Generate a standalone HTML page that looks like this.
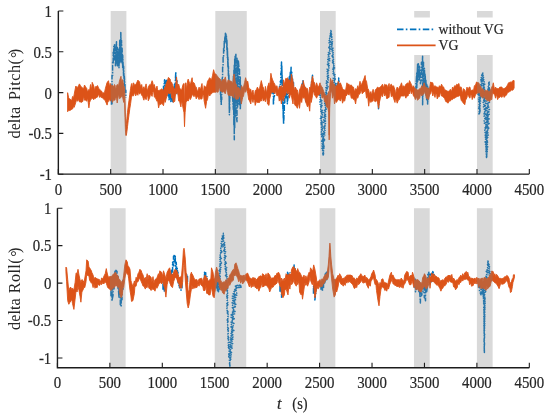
<!DOCTYPE html><html><head><meta charset="utf-8"><title>chart</title><style>html,body{margin:0;padding:0;background:#fff}body{width:550px;height:419px;position:relative;overflow:hidden}</style></head><body><svg width="550" height="419" viewBox="0 0 550 419" style="position:absolute;left:0;top:0"><rect width="550" height="419" fill="#fff"/><path d="M111.5 104.7L111.5 96.3L112.0 103.7L112.0 75.3L112.6 75.7L112.6 62.3L113.2 63.7L113.2 52.3L113.8 57.7L113.8 46.3L114.5 59.7L114.5 44.1L115.1 48.4L115.4 47.3L115.4 65.7L116.5 41.7L116.5 63.7L116.9 61.2L117.3 65.7L117.3 47.3L118.1 65.7L118.1 53.3L118.7 53.4L119.0 48.3L119.0 67.7L119.8 40.3L119.8 63.7L120.5 53.7L120.8 59.7L120.8 32.6L121.5 61.7L121.5 40.3L122.1 63.7L122.1 48.3L122.7 67.7L122.7 55.3L123.6 75.7L123.6 66.3L124.3 85.7L124.3 76.3L124.7 82.6L125.0 84.3L125.0 93.7L125.8 90.3L125.8 97.7" fill="none" stroke="#0072BD" stroke-width="1.5" stroke-linejoin="round" stroke-dasharray="6 1.2 1.6 1.2"/><path d="M163.5 91.7L163.5 86.3L164.1 84.5L164.6 79.8L164.6 89.7L165.3 88.0L165.9 81.0L166.5 91.1L166.8 91.7L166.8 80.3L167.7 84.2L168.0 85.3L168.0 95.7L169.0 88.3L169.0 99.7L169.5 98.7L170.1 90.3L170.7 99.9L171.0 102.7L171.0 90.3L171.9 90.9L172.5 99.6L172.8 101.7L172.8 90.3L173.7 87.5L174.5 84.3L174.5 95.7L174.9 91.1L175.5 77.5L175.8 71.8L175.8 89.7L176.7 91.8L177.0 93.7L177.0 80.3" fill="none" stroke="#0072BD" stroke-width="1.5" stroke-linejoin="round" stroke-dasharray="6 1.2 1.6 1.2"/><path d="M220.5 94.7L220.5 89.3L221.0 101.7L221.0 94.3L221.3 105.7L221.3 100.3L221.7 99.7L221.7 92.3L222.1 88.7L222.1 79.3L222.6 76.7L222.6 67.3L223.1 66.7L223.1 57.3L223.6 57.7L223.6 48.3L224.2 50.7L224.2 41.3L224.8 43.7L224.8 36.3L225.4 38.7L225.4 33.3L225.9 36.4L225.9 34.0L226.4 42.7L226.4 35.3L226.9 49.7L226.9 40.3L227.4 57.7L227.4 48.3L227.9 66.7L227.9 57.3L228.4 75.7L228.4 66.3L228.9 84.7L228.9 75.3L229.1 96.7L229.1 87.3L229.3 108.7L229.3 99.3L229.4 114.7L229.4 111.3L229.7 108.7L229.7 99.3L230.0 96.7L230.0 87.3L230.6 91.7L230.6 84.3L231.5 94.7L231.5 85.3L231.9 85.3L232.5 84.3L232.5 95.7L233.1 104.8L233.4 109.7L233.4 76.3L233.9 125.7L233.9 70.3L234.3 139.7L234.3 64.3L234.7 127.7L234.7 58.3L235.1 117.7L235.1 56.3L235.5 62.8L235.9 53.7L235.9 111.7L236.7 118.8L237.0 121.7L237.0 58.3L237.6 107.7L237.6 60.3L238.4 103.7L238.4 61.3L239.1 69.3L239.5 68.3L239.5 105.7L240.3 76.3L240.3 109.7L241.0 85.3L241.0 103.7L241.5 100.0L242.0 97.7L242.0 88.3" fill="none" stroke="#0072BD" stroke-width="1.5" stroke-linejoin="round" stroke-dasharray="6 1.2 1.6 1.2"/><path d="M272.0 93.7L272.0 86.3L272.6 87.4L273.4 88.3L273.4 104.7L273.8 97.5L274.5 95.7L274.5 88.3" fill="none" stroke="#0072BD" stroke-width="1.5" stroke-linejoin="round" stroke-dasharray="6 1.2 1.6 1.2"/><path d="M279.5 93.7L279.5 86.3L280.3 90.7L280.3 81.3L280.8 82.7L280.8 73.3L281.2 73.7L281.2 66.3L281.5 64.4L281.5 62.0L281.8 74.7L281.8 65.3L282.1 84.7L282.1 75.3L282.5 96.7L282.5 87.3L282.9 108.7L282.9 99.3L283.3 118.7L283.3 111.3L283.6 124.2L283.6 121.8L283.9 118.7L283.9 111.3L284.3 110.7L284.3 101.3L284.8 102.7L284.8 93.3L285.5 98.7L285.5 89.3L286.3 97.7L286.3 86.3L286.7 86.6L287.3 84.3L287.3 103.7L287.9 98.1L288.3 95.7L288.3 82.3L289.1 78.5L289.5 76.3L289.5 89.7L290.3 72.3L290.3 83.7L291.1 67.3L291.1 76.7L291.8 72.3L291.8 83.7L292.1 83.5L292.5 89.7L292.5 78.3L293.5 93.7L293.5 82.3" fill="none" stroke="#0072BD" stroke-width="1.5" stroke-linejoin="round" stroke-dasharray="6 1.2 1.6 1.2"/><path d="M302.0 91.7L302.0 84.3L302.6 83.1L303.0 80.7L303.0 89.7L303.8 92.3L304.5 95.7L304.5 86.3L305.0 88.8L305.6 99.9L306.0 101.7L306.0 90.3L307.0 96.7L307.0 90.3" fill="none" stroke="#0072BD" stroke-width="1.5" stroke-linejoin="round" stroke-dasharray="6 1.2 1.6 1.2"/><path d="M311.5 89.7L311.5 82.3L312.1 78.9L312.5 75.3L312.5 87.7L313.5 82.3L313.5 91.7" fill="none" stroke="#0072BD" stroke-width="1.5" stroke-linejoin="round" stroke-dasharray="6 1.2 1.6 1.2"/><path d="M318.9 92.2L320.7 93.1L319.4 94.9L321.1 96.0L320.2 97.2L321.4 98.4L320.1 99.6L321.9 100.7L319.9 102.0L321.9 103.2L320.1 104.4L322.1 105.6L320.6 106.8L322.0 108.0L320.7 109.2L322.5 110.2L320.8 111.4L322.5 112.5L320.9 113.7L322.5 114.8L320.8 116.0L322.3 117.1L320.4 118.3L322.1 119.4L321.2 120.6L322.9 121.7L320.9 122.9L322.3 124.0L320.6 125.2L323.1 126.2L321.4 127.4L322.8 128.5L321.5 129.7L322.8 130.8L321.2 132.0L322.7 133.1L321.2 134.3L322.7 135.4L321.7 136.6L323.4 137.7L321.6 138.9L323.1 140.0L321.6 141.2L323.3 142.4L321.9 143.6L323.0 144.8L321.9 146.0L323.7 147.2L321.9 148.4L323.6 149.6L322.5 150.8L323.5 151.9L322.8 153.6L323.2 155.0L323.6 153.8L323.3 152.7L323.9 151.5L323.3 150.3L324.3 149.2L323.3 148.0L324.1 146.8L323.1 145.6L324.5 144.5L323.3 143.3L324.5 142.2L323.4 141.0L324.7 139.9L323.2 138.6L324.6 137.5L323.4 136.3L324.8 135.2L323.3 134.0L324.8 132.8L323.7 131.6L325.1 130.5L323.5 129.3L325.0 128.2L323.7 127.0L325.2 125.9L324.0 124.6L325.5 123.5L323.5 122.3L325.6 121.2L323.5 119.9L325.4 118.8L323.7 117.5L325.7 116.4L324.4 115.2L326.1 114.0L323.9 112.7L325.6 111.6L324.5 110.4L326.4 109.2L324.6 108.0L326.0 106.9L325.0 105.8L326.0 104.7L324.6 103.5L326.9 102.5L324.5 101.3L326.6 100.3L325.4 99.1L326.6 98.1L325.0 96.7L327.2 95.8L325.4 94.5L327.0 93.5L325.7 92.2L327.5 91.2L325.9 89.9L327.5 88.9L325.8 87.7L328.2 86.8L326.6 85.5L327.9 84.5L326.2 83.2L328.1 82.3L326.4 81.0L328.4 80.0L326.7 78.7L328.7 77.7L327.2 76.4L328.5 75.2L327.3 74.0L329.0 72.9L327.1 71.5L328.7 70.4L327.1 69.1L329.0 68.0L327.8 66.8L329.2 65.6L327.4 64.3L329.4 63.2L327.8 61.9L329.8 60.9L327.7 59.5L329.8 58.5L328.2 57.2L329.8 56.0L328.1 54.7L330.1 53.7L328.4 52.4L329.9 51.2L328.7 50.0L330.3 48.9L328.8 47.6L329.9 46.4L328.8 45.2L330.6 44.1L329.0 42.8L330.7 41.8L329.1 40.5L330.6 39.5L329.5 38.2L330.7 37.2L330.0 36.0L330.8 34.9L330.3 33.8L331.0 32.7L330.5 31.6L330.8 30.5L331.2 31.8L331.0 33.1L331.6 34.4L330.9 35.7L331.9 37.0L331.2 38.2L332.1 39.2L331.3 40.4L332.5 41.5L331.5 42.7L332.3 43.7L331.5 44.9L332.9 45.9L331.3 47.2L333.0 48.1L331.3 49.4L333.0 50.4L332.1 51.5L333.2 52.6L331.9 53.7L333.2 54.8L331.9 56.0L333.4 57.0L332.3 58.1L333.6 59.2L331.9 60.4L333.5 61.4L332.5 62.5L333.8 63.6L332.7 64.7L334.1 65.8L332.8 66.9L334.6 67.9L332.8 69.2L334.6 70.2L333.2 71.4L334.6 72.4L333.0 73.6L335.0 74.6L333.4 75.8L334.9 76.8L333.1 78.1L335.4 79.0L333.9 80.4L335.4 81.3L333.7 82.7L335.6 83.6L334.0 85.0L335.9 85.5L334.9 87.6L337.2 88.0" fill="none" stroke="#0072BD" stroke-width="1.5" stroke-linejoin="round" stroke-dasharray="6 1.2 1.6 1.2"/><path d="M336.5 91.7L336.5 84.3L337.1 83.7L337.8 82.3L337.8 91.7L338.3 88.9L338.7 89.7L338.7 78.0L339.8 93.7L339.8 84.3" fill="none" stroke="#0072BD" stroke-width="1.5" stroke-linejoin="round" stroke-dasharray="6 1.2 1.6 1.2"/><path d="M377.5 95.7L377.5 90.3L378.1 91.6L378.5 92.3L378.5 108.7L379.5 92.3L379.5 97.7" fill="none" stroke="#0072BD" stroke-width="1.5" stroke-linejoin="round" stroke-dasharray="6 1.2 1.6 1.2"/><path d="M415.0 94.7L415.0 88.3L415.9 91.7L415.9 82.3L416.2 82.4L416.8 72.3L416.8 87.7L417.6 64.3L417.6 81.7L418.0 79.6L418.4 77.7L418.4 63.7L419.4 79.7L419.4 66.3L419.8 70.3L420.4 70.3L420.4 83.7L421.0 81.1L421.4 79.7L421.4 62.3L422.2 69.6L422.6 56.2L422.6 104.7L423.5 62.3L423.5 91.7L424.0 90.5L424.4 89.7L424.4 68.3L425.2 91.7L425.2 74.3L425.9 95.7L425.9 80.3L426.7 99.7L426.7 84.3L427.0 89.0L427.6 86.3L427.6 104.1L428.5 88.3L428.5 95.7" fill="none" stroke="#0072BD" stroke-width="1.5" stroke-linejoin="round" stroke-dasharray="6 1.2 1.6 1.2"/><path d="M477.7 92.1L479.1 93.1L477.9 94.3L479.2 95.4L478.1 96.6L479.6 97.6L478.4 98.9L479.8 100.0L478.7 101.2L479.6 102.3L478.6 103.5L479.5 104.7L478.5 105.9L479.6 107.0L478.6 108.2L480.0 109.3L478.9 110.5L480.0 111.6L478.8 112.8L478.9 114.0L479.7 112.8L479.1 111.7L480.1 110.5L479.2 109.3L480.0 108.2L479.2 107.0L480.1 105.8L479.0 104.6L480.3 103.5L479.2 102.3L480.6 101.2L478.9 99.9L480.5 98.9L479.7 97.8L481.2 96.7L479.2 95.5L481.2 94.5L479.6 93.3L481.0 92.3L480.0 91.1L481.3 90.1L479.9 88.8L481.3 87.8L479.9 86.6L482.0 85.6L480.7 84.4L482.3 83.4L480.5 82.2L482.5 81.2L480.7 79.9L482.6 79.0L481.2 77.6L482.7 76.6L481.6 75.3L482.6 74.2L482.8 73.0L482.3 74.2L483.2 75.2L482.3 76.4L483.6 77.4L482.1 78.7L483.8 79.7L482.5 80.9L484.3 81.9L482.0 83.3L484.8 84.3L482.3 85.7L485.1 86.7L482.9 88.1L484.6 89.1L483.2 90.5L484.8 91.5L483.4 92.9L485.7 93.9L482.4 95.3L485.2 96.3L482.8 97.6L486.5 98.6L482.8 99.9L485.5 100.9L483.1 102.3L485.8 103.3L483.8 104.6L485.6 105.6L483.4 106.9L487.1 107.9L484.1 109.2L486.1 110.3L483.9 111.6L486.0 112.6L483.9 113.9L487.0 114.9L484.0 116.2L486.2 117.3L484.7 118.5L486.5 119.6L484.0 120.9L487.5 121.9L484.3 123.2L486.5 124.3L484.8 125.5L486.9 126.6L485.0 127.9L486.6 129.0L484.7 130.2L487.4 131.3L485.0 132.5L487.5 133.6L484.5 134.9L487.0 136.0L485.3 137.2L486.8 138.4L485.0 139.6L487.4 140.8L485.0 142.0L486.8 143.2L485.5 144.4L486.7 145.6L485.8 146.8L486.9 148.0L486.0 149.2L486.8 150.4L485.8 151.6L486.8 152.7L486.2 153.9L486.8 155.1L486.4 156.3L486.5 157.5L486.8 156.3L486.4 155.1L486.9 153.9L486.3 152.7L487.3 151.6L486.2 150.4L487.4 149.2L486.2 148.0L487.8 146.9L486.0 145.6L487.4 144.5L486.3 143.3L487.6 142.2L486.0 141.0L487.9 139.9L486.3 138.6L487.8 137.5L486.2 136.3L488.4 135.2L486.0 134.0L488.0 132.9L486.3 131.6L488.5 130.5L486.7 129.3L488.9 128.2L486.8 127.0L488.7 125.9L486.7 124.6L489.2 123.5L486.1 122.3L488.4 121.2L486.4 120.0L489.3 118.9L486.0 117.6L489.1 116.5L486.4 115.3L489.3 114.2L486.1 113.0L489.1 111.9L486.5 110.6L489.5 109.5L486.7 108.3L488.9 107.2L486.7 106.0L489.1 104.8L486.7 103.6L489.5 102.4L486.6 101.1L488.9 100.0L487.7 98.8L489.7 97.6L487.1 96.4L489.8 95.2L487.2 94.0L489.7 92.8L487.9 91.6L489.1 90.4L487.8 89.2L489.4 88.0L488.2 86.8L489.5 85.6L488.3 84.4L489.1 83.2L489.2 82.0L488.6 83.2L489.3 84.3L488.8 85.5L489.5 86.5L488.8 87.8L490.3 88.8L488.5 90.2L490.7 91.1L489.4 92.8L489.5 93.7L490.7 92.0" fill="none" stroke="#0072BD" stroke-width="1.5" stroke-linejoin="round" stroke-dasharray="6 1.2 1.6 1.2"/><path d="M67.6 92.7L68.6 97.6L69.3 98.7L70.9 99.7L71.6 101.0L72.5 96.5L73.6 97.4L74.2 94.3L75.8 86.1L76.6 87.1L77.4 87.7L78.6 85.5L79.4 83.9L80.6 85.9L81.3 86.7L82.9 88.3L83.6 88.7L84.5 85.0L85.6 87.0L86.7 88.3L87.6 92.2L88.9 89.4L89.6 90.7L90.5 84.5L91.6 89.7L92.2 82.3L93.8 86.1L94.6 90.9L95.4 86.7L96.6 86.4L97.6 85.6L98.6 88.2L99.8 89.4L100.6 90.5L102.0 91.6L102.6 93.6L103.6 92.7L104.6 92.2L105.3 88.8L107.1 82.3L107.6 81.9L108.5 80.7L109.6 87.3L110.2 83.4L111.6 86.0L112.3 85.0L113.6 87.1L114.5 84.5L115.0 85.0L115.6 90.0L116.6 85.7L117.2 84.5L118.6 85.4L119.4 81.2L121.0 76.3L121.6 83.1L122.6 79.6L123.7 85.6L124.6 88.3L125.0 100.3L125.4 116.3L125.8 126.3L126.3 124.3L126.9 118.3L127.5 112.3L128.2 106.3L129.0 100.3L129.8 94.3L130.6 88.3L131.4 84.3L131.9 83.4L132.6 88.6L133.5 82.8L134.6 85.2L135.7 84.5L136.6 83.1L137.9 80.1L138.6 80.9L139.5 81.8L140.6 86.7L141.7 84.5L142.6 89.8L143.9 86.7L144.6 89.5L146.1 83.9L146.6 87.7L147.6 90.9L148.3 86.7L149.9 84.5L150.6 85.3L152.1 80.7L152.6 81.8L153.6 86.6L154.3 84.5L155.6 89.9L157.0 86.1L157.6 89.7L158.6 90.5L159.6 90.2L160.3 89.9L161.9 88.8L162.6 90.1L163.5 90.5L164.6 88.0L165.2 86.7L166.3 83.4L167.6 80.0L168.4 77.4L170.1 79.0L170.6 81.9L171.7 82.3L172.6 85.0L173.3 86.7L174.8 89.9L175.6 86.2L176.5 76.9L177.6 86.1L178.7 84.2L179.6 87.8L180.9 90.0L181.6 90.1L183.1 84.2L184.0 83.5L184.5 108.9L185.1 83.5L186.0 82.8L186.6 90.0L187.6 80.8L188.2 79.1L189.6 83.5L190.4 84.2L192.1 77.7L192.6 82.5L194.0 82.8L194.6 84.0L195.6 87.4L196.2 87.1L197.6 92.1L199.1 87.1L199.6 88.7L200.6 88.7L202.0 83.5L202.6 89.9L203.6 90.7L204.2 85.7L205.6 87.1L206.6 86.3L207.5 81.3L208.6 79.7L209.6 77.7L210.6 79.0L211.5 79.8L212.6 75.2L213.6 69.7L214.6 73.6L215.8 74.0L216.6 75.1L218.0 76.9L218.6 77.8L219.6 78.6L220.2 79.1L221.6 82.3L222.4 79.8L223.6 79.5L224.6 79.3L225.3 76.9L226.6 83.9L227.6 81.6L228.2 79.8L229.6 80.8L231.1 81.3L231.6 81.5L232.6 84.0L234.0 74.0L234.6 77.0L235.6 84.8L236.2 84.2L237.6 88.6L238.4 87.1L239.6 89.1L240.6 92.0L241.3 85.7L242.6 87.4L243.5 87.1L244.6 82.4L245.6 77.7L246.6 81.8L247.8 81.3L248.6 87.1L249.6 89.4L250.8 89.3L251.6 94.1L253.0 90.0L253.6 94.8L254.6 95.2L255.2 90.8L256.6 89.2L257.4 87.1L258.6 89.5L259.5 88.6L260.6 83.6L261.3 80.6L262.6 86.3L263.2 87.1L264.6 92.8L265.4 86.4L266.6 93.3L267.5 87.1L269.0 82.8L269.6 88.5L270.9 73.3L271.6 77.0L272.6 79.8L273.6 82.3L274.8 84.2L275.6 87.0L277.0 85.7L277.6 90.0L278.6 89.9L279.2 87.1L280.6 86.4L281.4 85.7L282.6 89.9L283.5 79.8L284.6 84.6L285.7 78.4L286.6 78.7L287.5 77.7L288.6 80.6L289.4 79.8L290.6 84.4L291.3 74.0L293.0 81.3L293.6 85.6L294.6 91.0L295.2 87.1L296.6 89.5L297.4 90.0L298.6 96.9L299.5 90.0L300.6 87.7L301.7 84.2L302.6 89.5L303.2 80.6L304.6 86.5L305.4 87.1L306.6 88.4L307.5 88.6L308.6 96.6L309.7 87.1L310.6 88.2L311.2 82.8L312.6 76.2L313.6 81.8L314.5 82.8L315.6 87.5L316.6 82.8L317.6 85.9L318.5 87.1L320.0 82.8L320.6 84.7L321.6 86.8L322.2 87.1L323.6 91.2L324.4 92.9L325.6 95.7L326.5 95.8L328.0 94.4L328.7 91.5L329.2 135.1L329.7 87.1L330.5 78.4L331.6 82.8L332.4 79.8L333.6 84.9L334.5 84.2L335.6 88.1L336.3 85.7L337.6 85.7L338.2 81.3L339.6 84.8L340.4 82.8L341.6 86.1L342.5 88.6L343.6 89.8L344.7 90.0L345.6 90.3L346.9 82.8L347.6 84.3L349.1 84.2L349.6 86.6L350.6 85.0L351.3 84.9L352.6 87.1L353.5 87.1L354.6 92.2L355.6 88.6L356.6 90.0L357.8 85.7L358.6 88.9L360.0 81.3L360.6 84.4L361.6 84.4L362.2 82.8L363.6 79.8L365.1 75.5L365.6 79.9L366.5 81.3L367.6 88.2L368.7 90.0L369.6 94.4L370.9 91.5L371.6 95.3L373.1 89.3L373.6 91.8L374.6 93.9L375.3 90.0L376.6 88.5L377.5 87.1L378.6 87.8L379.6 87.6L380.4 87.1L381.6 85.6L382.5 84.2L383.6 88.0L384.7 84.2L385.6 84.9L386.9 84.9L387.6 87.9L389.1 83.5L389.6 88.7L390.6 84.7L391.3 84.2L392.6 86.6L393.5 85.7L395.0 90.0L395.6 95.0L396.6 88.4L397.2 87.1L398.6 89.5L399.4 87.1L400.6 85.2L401.5 82.8L402.6 87.5L403.7 85.7L404.6 87.3L405.9 84.2L406.6 83.7L408.1 82.8L408.6 84.9L409.5 80.6L410.6 82.9L411.3 84.2L412.6 88.3L413.2 85.7L414.6 87.8L415.4 88.6L416.6 89.5L417.5 90.0L418.6 90.0L419.7 88.6L420.6 88.7L421.9 85.7L422.6 88.2L424.1 82.8L424.6 84.2L425.6 88.1L426.3 87.1L427.6 88.2L428.5 88.6L429.6 88.0L430.6 82.0L431.6 82.5L432.8 82.8L433.6 86.8L435.0 85.7L435.6 86.2L436.6 86.9L437.2 87.1L438.6 87.8L439.4 85.7L440.6 87.0L441.5 84.2L442.6 86.4L443.7 87.1L444.6 90.3L445.9 90.0L446.6 90.7L448.1 91.5L448.6 91.0L449.6 91.0L450.3 89.3L451.6 91.6L452.5 87.1L453.6 88.4L454.6 85.7L455.6 86.2L456.8 84.2L457.6 84.7L459.0 83.5L459.6 88.2L460.6 86.8L461.2 87.1L462.6 93.7L463.4 88.6L464.8 90.0L465.6 93.3L467.0 87.1L467.6 88.8L468.6 88.4L469.2 87.1L470.0 87.1L470.6 90.8L471.6 90.3L472.2 90.0L473.6 90.3L474.4 85.7L475.6 85.0L476.5 82.0L477.6 82.5L478.7 82.8L479.6 84.7L480.9 87.1L481.6 88.5L483.1 89.3L483.6 89.6L484.6 93.1L485.3 90.0L486.6 90.8L487.5 90.0L488.6 91.7L489.6 91.5L490.6 89.9L491.8 87.1L492.6 85.5L493.3 82.8L494.6 90.2L495.5 87.1L496.6 88.6L497.6 88.6L498.6 88.8L499.8 87.1L500.6 87.1L502.0 87.1L502.6 89.1L503.6 88.6L504.2 88.6L505.6 87.6L506.4 87.1L507.6 84.7L508.5 82.8L509.6 82.4L510.7 82.0L511.6 82.2L512.9 80.6L514.1 80.6L514.1 88.0L512.9 90.2L511.6 90.0L510.7 90.9L509.6 91.6L508.5 92.3L507.6 92.4L506.4 95.2L505.6 95.4L504.2 97.4L503.6 95.8L502.6 95.7L502.0 97.4L500.6 96.2L499.8 97.4L498.6 97.5L497.6 99.6L496.6 94.3L495.5 98.2L494.6 94.4L493.3 93.8L492.6 91.5L491.8 99.6L490.6 99.2L489.6 101.8L488.6 99.9L487.5 101.1L486.6 99.6L485.3 98.9L484.6 96.4L483.6 95.2L483.1 98.2L481.6 96.9L480.9 96.7L479.6 91.6L478.7 93.1L477.6 93.1L476.5 93.8L475.6 94.4L474.4 98.2L473.6 95.9L472.2 99.6L471.6 95.8L470.6 94.0L470.0 98.2L469.2 97.4L468.6 95.7L467.6 93.9L467.0 97.4L465.6 100.2L464.8 104.7L463.4 103.2L462.6 102.0L461.2 100.3L460.6 97.2L459.6 94.8L459.0 96.0L457.6 96.4L456.8 96.7L455.6 97.5L454.6 98.2L453.6 98.3L452.5 99.6L451.6 99.2L450.3 101.1L449.6 100.7L448.6 102.2L448.1 103.2L446.6 101.9L445.9 101.8L444.6 98.6L443.7 97.4L442.6 96.4L441.5 96.0L440.6 91.7L439.4 96.7L438.6 96.3L437.2 98.9L436.6 94.3L435.6 93.7L435.0 97.4L433.6 92.4L432.8 96.0L431.6 89.8L430.6 93.8L429.6 94.9L428.5 99.6L427.6 99.0L426.3 98.2L425.6 93.9L424.6 90.5L424.1 93.8L422.6 94.5L421.9 96.0L420.6 93.4L419.7 98.2L418.6 99.0L417.5 100.3L416.6 96.7L415.4 99.6L414.6 97.4L413.2 95.2L412.6 90.7L411.3 93.8L410.6 89.0L409.5 93.8L408.6 92.9L408.1 96.0L406.6 96.1L405.9 98.2L404.6 95.2L403.7 96.0L402.6 96.0L401.5 96.0L400.6 96.3L399.4 99.6L398.6 99.5L397.2 103.2L396.6 101.0L395.6 98.1L395.0 102.5L393.5 98.2L392.6 95.6L391.3 96.7L390.6 91.6L389.6 91.6L389.1 97.4L387.6 98.0L386.9 98.9L385.6 93.7L384.7 96.0L383.6 91.7L382.5 96.7L381.6 94.3L380.4 98.2L379.6 101.5L378.6 108.3L377.5 102.5L376.6 100.3L375.3 101.8L374.6 101.3L373.6 96.5L373.1 101.1L371.6 101.3L370.9 102.5L369.6 99.5L368.7 106.2L367.6 95.5L366.5 98.2L365.6 90.7L365.1 90.9L363.6 92.3L362.2 93.8L361.6 90.8L360.6 91.7L360.0 93.8L358.6 94.8L357.8 98.2L356.6 97.1L355.6 104.0L354.6 99.6L353.5 99.6L352.6 98.1L351.3 98.2L350.6 94.8L349.6 92.3L349.1 95.2L347.6 93.1L346.9 95.2L345.6 96.4L344.7 101.1L343.6 100.2L342.5 103.2L341.6 97.2L340.4 101.1L339.6 99.8L338.2 99.6L337.6 100.4L336.3 102.5L335.6 99.8L334.5 104.0L333.6 94.2L332.4 98.2L331.6 90.0L330.5 93.8L329.7 108.3L329.2 139.9L328.7 112.7L328.0 108.3L326.5 106.9L325.6 103.0L324.4 101.1L323.6 96.5L322.2 98.2L321.6 95.6L320.6 92.7L320.0 93.8L318.5 95.2L317.6 95.6L316.6 98.2L315.6 96.1L314.5 95.2L313.6 89.6L312.6 95.2L311.2 102.5L310.6 97.4L309.7 111.2L308.6 104.0L307.5 106.9L306.6 104.4L305.4 101.1L304.6 97.2L303.2 98.2L302.6 95.5L301.7 102.5L300.6 99.4L299.5 108.3L298.6 102.5L297.4 108.3L296.6 106.8L295.2 105.4L294.6 104.4L293.6 95.8L293.0 104.0L291.3 95.2L290.6 93.8L289.4 98.2L288.6 90.9L287.5 93.8L286.6 89.3L285.7 95.2L284.6 95.2L283.5 101.1L282.6 96.1L281.4 104.0L280.6 98.9L279.2 101.1L278.6 95.6L277.6 95.7L277.0 96.0L275.6 90.8L274.8 93.8L273.6 92.5L272.6 92.3L271.6 92.2L270.9 93.8L269.6 99.2L269.0 105.4L267.5 104.0L266.6 96.1L265.4 101.8L264.6 99.4L263.2 101.1L262.6 96.9L261.3 101.1L260.6 100.3L259.5 102.5L258.6 102.5L257.4 102.5L256.6 100.9L255.2 105.4L254.6 100.6L253.6 99.1L253.0 102.5L251.6 97.5L250.8 104.0L249.6 100.9L248.6 99.6L247.8 93.8L246.6 88.8L245.6 92.3L244.6 90.3L243.5 96.0L242.6 97.6L241.3 104.0L240.6 98.4L239.6 94.9L238.4 98.9L237.6 99.1L236.2 99.6L235.6 98.7L234.6 89.9L234.0 98.2L232.6 96.5L231.6 95.3L231.1 96.0L229.6 95.3L228.2 95.2L227.6 92.5L226.6 87.5L225.3 93.8L224.6 93.1L223.6 91.5L222.4 92.3L221.6 91.5L220.2 90.9L219.6 86.6L218.6 90.4L218.0 92.3L216.6 91.8L215.8 92.3L214.6 92.2L213.6 92.3L212.6 92.4L211.5 93.8L210.6 94.6L209.6 96.0L208.6 93.4L207.5 99.6L206.6 101.4L205.6 108.3L204.2 101.1L203.6 95.6L202.6 94.8L202.0 98.9L200.6 99.1L199.6 96.6L199.1 99.6L197.6 96.1L196.2 98.9L195.6 95.9L194.6 95.6L194.0 96.7L192.6 94.5L192.1 95.2L190.4 99.6L189.6 97.3L188.2 101.1L187.6 100.2L186.6 101.5L186.0 102.5L185.1 112.7L184.5 126.7L184.0 112.7L183.1 108.3L181.6 100.3L180.9 106.9L179.6 101.3L178.7 101.1L177.6 91.4L176.5 93.8L175.6 92.5L174.8 101.3L173.3 102.4L172.6 98.3L171.7 98.1L170.6 89.8L170.1 93.7L168.4 93.1L167.6 94.0L166.3 98.1L165.2 102.4L164.6 98.8L163.5 105.7L162.6 104.2L161.9 103.5L160.3 104.6L159.6 103.5L158.6 107.9L157.6 99.9L157.0 101.3L155.6 98.1L154.3 97.0L153.6 91.0L152.6 92.6L152.1 96.4L150.6 93.4L149.9 97.0L148.3 100.8L147.6 94.6L146.6 97.7L146.1 99.7L144.6 97.0L143.9 100.2L142.6 96.3L141.7 95.3L140.6 92.4L139.5 94.2L138.6 91.4L137.9 95.3L136.6 93.5L135.7 95.9L134.6 92.2L133.5 95.9L132.6 95.6L131.9 95.9L131.4 97.7L130.6 103.7L129.8 108.7L129.0 114.7L128.2 120.7L127.5 126.7L126.9 131.7L126.3 135.4L125.8 135.4L125.4 129.7L125.0 117.7L124.6 99.7L123.7 102.4L122.6 97.0L121.6 95.8L121.0 97.5L119.4 98.6L118.6 93.7L117.2 103.0L116.6 98.7L115.6 96.8L115.0 100.2L114.5 100.2L113.6 99.8L112.3 102.4L111.6 98.5L110.2 101.3L109.6 98.8L108.5 101.3L107.6 102.7L107.1 105.1L105.3 100.8L104.6 100.1L103.6 99.1L102.6 97.7L102.0 98.1L100.6 96.1L99.8 97.5L98.6 93.9L97.6 97.0L96.6 97.4L95.4 98.6L94.6 98.1L93.8 99.7L92.2 98.1L91.6 98.7L90.5 100.2L89.6 102.4L88.9 107.9L87.6 97.9L86.7 101.3L85.6 100.0L84.5 100.2L83.6 96.1L82.9 101.3L81.3 102.4L80.6 102.0L79.4 101.9L78.6 99.5L77.4 101.3L76.6 99.3L75.8 102.4L74.2 107.3L73.6 106.5L72.5 109.0L71.6 109.4L70.9 110.0L69.3 110.6L68.6 110.6L67.6 111.7Z" fill="#DC5318" stroke="#DC5318" stroke-width="0.9" stroke-linejoin="round"/><rect x="110.68" y="11.00" width="15.70" height="163.10" fill="#808080" fill-opacity="0.3"/><rect x="215.34" y="11.00" width="31.40" height="163.10" fill="#808080" fill-opacity="0.3"/><rect x="320.00" y="11.00" width="15.70" height="163.10" fill="#808080" fill-opacity="0.3"/><rect x="414.19" y="11.00" width="15.70" height="163.10" fill="#808080" fill-opacity="0.3"/><rect x="476.99" y="11.00" width="15.70" height="163.10" fill="#808080" fill-opacity="0.3"/><path d="M58.35 11.00V174.10H529.32" fill="none" stroke="#1c1c1c" stroke-width="1.4"/><path d="M58.35 174.10v-5M110.68 174.10v-5M163.01 174.10v-5M215.34 174.10v-5M267.67 174.10v-5M320.00 174.10v-5M372.33 174.10v-5M424.66 174.10v-5M476.99 174.10v-5M529.32 174.10v-5M58.35 11.00h5M58.35 51.80h5M58.35 92.60h5M58.35 133.40h5M58.35 174.20h5" fill="none" stroke="#1c1c1c" stroke-width="1.1"/><path d="M110.0 285.7L110.0 278.3L110.6 281.7L111.0 282.3L111.0 295.7L112.0 286.3L112.0 300.7L112.4 298.3L113.0 295.7L113.0 282.3L113.6 280.5L114.0 276.3L114.0 289.7L115.0 271.3L115.0 283.7L115.4 282.6L116.0 281.7L116.0 270.3L116.6 271.8L117.0 271.3L117.0 283.7L118.0 276.3L118.0 289.7L118.4 288.6L119.0 297.7L119.0 282.3L119.6 285.2L120.3 288.3L120.3 304.7L120.8 305.1L121.2 306.5L121.2 290.3L122.0 299.7L122.0 286.3L122.6 284.4L123.0 280.3L123.0 289.7" fill="none" stroke="#0072BD" stroke-width="1.5" stroke-linejoin="round" stroke-dasharray="6 1.2 1.6 1.2"/><path d="M163.0 289.7L163.0 282.3L163.6 283.5L164.2 284.3L164.2 291.7L164.8 289.1L165.5 287.7L165.5 280.3" fill="none" stroke="#0072BD" stroke-width="1.5" stroke-linejoin="round" stroke-dasharray="6 1.2 1.6 1.2"/><path d="M170.5 283.7L170.5 276.3L171.1 275.4L171.5 270.3L171.5 279.7L172.3 275.2L172.6 273.7L172.6 262.3L173.5 265.7L173.5 256.3L174.1 256.7L174.4 254.8L174.4 261.7L175.3 256.3L175.3 265.7L175.9 268.9L176.2 271.7L176.2 262.3L177.2 277.7L177.2 268.3L177.7 273.6L178.0 272.3L178.0 281.7L178.9 284.8L179.5 287.7L179.5 280.3L180.1 283.3L180.7 289.5L181.0 290.2L181.0 282.3L182.0 287.7L182.0 280.3" fill="none" stroke="#0072BD" stroke-width="1.5" stroke-linejoin="round" stroke-dasharray="6 1.2 1.6 1.2"/><path d="M186.5 281.7L186.5 274.3L187.1 276.5L187.5 276.3L187.5 283.7" fill="none" stroke="#0072BD" stroke-width="1.5" stroke-linejoin="round" stroke-dasharray="6 1.2 1.6 1.2"/><path d="M204.5 279.7L204.5 272.3L205.1 274.8L205.7 272.8L205.7 281.7L206.3 282.5L207.0 283.7L207.0 276.3" fill="none" stroke="#0072BD" stroke-width="1.5" stroke-linejoin="round" stroke-dasharray="6 1.2 1.6 1.2"/><path d="M215.0 287.7L215.0 280.3L215.6 280.4L216.2 286.0L216.5 288.7L216.5 280.3L217.5 290.7L217.5 282.3L218.0 283.5L218.5 284.3L218.5 291.7L219.3 280.3L219.3 289.7" fill="none" stroke="#0072BD" stroke-width="1.5" stroke-linejoin="round" stroke-dasharray="6 1.2 1.6 1.2"/><path d="M220.0 286.0L218.7 284.8L219.9 283.6L218.8 282.4L220.2 281.2L218.6 280.0L220.1 278.8L219.2 277.6L220.2 276.4L219.4 275.2L220.6 274.0L218.9 272.8L220.4 271.8L219.1 270.6L220.6 269.6L219.1 268.4L221.0 267.4L219.6 266.2L220.7 265.1L219.9 264.0L221.5 263.0L220.0 261.7L221.4 260.7L219.9 259.5L221.4 258.5L219.9 257.3L221.3 256.3L220.1 255.1L221.4 254.0L220.5 252.8L222.0 251.8L220.7 250.5L221.8 249.5L220.7 248.2L222.4 247.2L221.2 246.0L222.6 244.9L221.1 243.5L222.3 242.4L221.4 241.1L222.5 240.0L221.7 238.6L223.1 237.4L222.3 235.9L223.2 234.7L223.3 233.3L223.1 234.5L223.7 235.6L223.0 236.9L223.9 238.0L222.9 239.2L224.2 240.3L223.1 241.6L224.7 242.6L223.7 243.9L224.8 245.0L223.5 246.2L225.1 247.2L223.4 248.5L224.9 249.5L223.7 250.8L225.7 251.8L224.3 253.0L225.6 254.1L224.6 255.3L225.9 256.4L224.3 257.6L225.8 258.7L224.4 259.9L226.0 261.0L225.1 262.2L226.3 263.2L224.7 264.4L226.3 265.5L225.2 266.7L226.7 267.7L225.1 268.9L226.5 270.0L225.6 271.1L226.9 272.2L225.2 273.4L226.7 274.4L225.5 275.6L227.1 276.6L226.0 277.8L227.2 278.8L225.8 280.0L227.0 281.2L226.2 282.4L227.1 283.6L225.9 284.8L227.1 286.0L226.1 287.2L227.6 288.4L226.2 289.6L227.5 290.8L226.6 292.0L227.7 293.1L226.2 294.4L227.7 295.5L226.7 296.7L227.6 297.8L226.5 299.0L227.4 300.2L226.9 301.3L227.8 302.5L226.8 303.7L227.9 304.8L226.9 306.0L227.9 307.2L226.9 308.3L227.7 309.5L227.1 310.7L228.0 311.8L227.3 313.0L228.1 314.2L227.2 315.3L228.1 316.5L227.4 317.7L227.9 318.8L227.2 320.0L228.1 321.2L227.5 322.4L228.2 323.6L227.6 324.8L228.3 326.0L227.6 327.2L228.4 328.4L227.7 329.6L228.4 330.8L227.8 332.0L228.3 333.1L227.8 334.2L228.5 335.3L228.0 336.4L228.5 337.5L227.9 338.6L228.7 339.7L228.2 340.8L228.8 341.9L228.2 343.0L229.0 344.1L228.3 345.3L228.9 346.4L228.4 347.5L229.2 348.6L228.6 349.8L229.3 350.9L228.7 352.0L229.1 353.1L228.8 354.3L229.4 355.4L228.7 356.6L229.4 357.7L229.1 358.9L229.5 360.0L229.2 361.3L229.7 362.5L229.5 363.8L229.9 365.0L230.0 366.3L229.7 365.1L230.2 363.9L229.6 362.7L230.4 361.6L229.9 360.4L230.8 359.2L229.8 358.0L230.9 356.9L230.0 355.7L231.3 354.7L229.6 353.5L231.6 352.5L230.0 351.3L231.4 350.3L230.0 349.1L232.2 348.1L229.9 346.8L232.1 345.8L230.0 344.6L232.7 343.6L229.6 342.3L232.1 341.4L229.9 340.1L232.8 339.2L230.3 337.9L233.0 337.0L230.9 335.8L232.9 334.8L231.0 333.5L232.5 332.5L230.5 331.3L233.9 330.4L230.8 329.1L233.7 328.2L230.8 326.9L233.3 325.9L231.3 324.5L234.0 323.5L231.0 322.1L233.4 321.1L231.3 319.7L234.3 318.7L231.1 317.3L233.9 316.3L231.0 314.9L234.6 313.9L231.3 312.5L235.1 311.5L232.2 310.1L234.4 309.1L232.3 307.7L235.4 306.7L232.5 305.3L235.8 304.3L232.1 302.8L235.6 302.0L232.7 300.6L235.5 299.8L232.3 298.3L235.8 297.5L232.4 296.1L236.7 295.3L233.1 293.7L236.8 293.1L234.0 291.4L236.2 290.6L234.1 289.0L237.5 288.8L235.4 286.2L236.1 285.8L239.5 285.0L237.9 287.5L238.8 287.4L241.1 287.2L240.5 285.3L241.0 284.0" fill="none" stroke="#0072BD" stroke-width="1.5" stroke-linejoin="round" stroke-dasharray="6 1.2 1.6 1.2"/><path d="M280.0 291.7L280.0 284.3L280.6 286.0L281.5 288.3L281.5 297.2L281.8 295.0L282.4 286.0L283.0 284.3L283.0 291.7" fill="none" stroke="#0072BD" stroke-width="1.5" stroke-linejoin="round" stroke-dasharray="6 1.2 1.6 1.2"/><path d="M287.5 279.7L287.5 272.3L288.1 273.8L288.7 273.3L288.7 281.7L289.3 280.6L290.0 279.7L290.0 272.3" fill="none" stroke="#0072BD" stroke-width="1.5" stroke-linejoin="round" stroke-dasharray="6 1.2 1.6 1.2"/><path d="M293.0 275.7L293.0 268.3L293.6 266.7L294.1 264.9L294.1 273.7L294.8 273.6L295.2 277.7L295.2 268.3" fill="none" stroke="#0072BD" stroke-width="1.5" stroke-linejoin="round" stroke-dasharray="6 1.2 1.6 1.2"/><path d="M313.5 293.7L313.5 286.3L314.1 288.4L314.9 290.3L314.9 300.0L315.3 296.0L316.0 291.7L316.0 286.3" fill="none" stroke="#0072BD" stroke-width="1.5" stroke-linejoin="round" stroke-dasharray="6 1.2 1.6 1.2"/><path d="M321.0 289.7L321.0 282.3L321.6 284.0L322.2 284.3L322.2 291.2L322.8 288.8L323.5 287.7L323.5 280.3L324.0 280.0L324.6 283.0L325.0 281.7L325.0 274.3L325.8 273.6L326.5 272.3L326.5 279.7L327.0 277.8L327.6 271.5L328.0 270.3L328.0 277.7" fill="none" stroke="#0072BD" stroke-width="1.5" stroke-linejoin="round" stroke-dasharray="6 1.2 1.6 1.2"/><path d="M414.5 287.7L414.5 278.3L415.1 282.0L415.5 279.3L415.5 291.7L416.3 289.4L417.0 287.7L417.0 280.3L417.5 283.3L418.1 289.6L419.0 291.7L419.0 282.3L419.3 283.6L419.9 295.0L420.4 302.9L420.4 284.3L421.1 285.0L421.6 284.3L421.6 295.7L422.3 292.7L423.0 291.7L423.0 282.3L423.5 283.3L424.3 284.3L424.3 297.7L424.7 294.4L425.5 300.7L425.5 284.3L425.9 287.5L426.7 280.3L426.7 291.7L427.1 288.6L427.8 283.7L427.8 274.3L428.3 273.4L428.8 272.3L428.8 281.7L429.5 282.1L430.0 283.7L430.0 274.3L430.7 274.7L431.5 273.3L431.5 281.7L431.9 279.4L432.8 279.7L432.8 271.5L433.1 272.6L434.0 274.3L434.0 281.7" fill="none" stroke="#0072BD" stroke-width="1.5" stroke-linejoin="round" stroke-dasharray="6 1.2 1.6 1.2"/><path d="M478.5 287.7L478.5 280.3L479.1 282.1L479.5 282.3L479.5 291.7L480.3 292.9L481.0 294.7L481.0 284.3L481.5 287.0L482.1 293.1L482.5 293.7L482.5 284.3L483.5 297.7L483.5 284.3" fill="none" stroke="#0072BD" stroke-width="1.5" stroke-linejoin="round" stroke-dasharray="6 1.2 1.6 1.2"/><path d="M483.2 292.0L484.1 293.1L483.3 294.2L484.2 295.3L483.5 296.4L484.3 297.5L483.4 298.7L484.2 299.8L483.5 300.9L484.1 302.0L483.6 303.1L484.2 304.2L483.8 305.4L484.3 306.5L483.7 307.6L484.3 308.7L483.8 309.9L484.3 311.0L483.9 312.1L484.2 313.2L483.9 314.4L484.2 315.5L483.8 316.6L484.2 317.7L483.9 318.9L484.4 320.0L483.9 321.1L484.3 322.2L484.0 323.4L484.4 324.5L483.9 325.6L484.3 326.7L484.0 327.9L484.4 329.0L484.0 330.1L484.3 331.2L484.1 332.4L484.4 333.5L484.1 334.6L484.3 335.7L484.1 336.9L484.5 338.0L484.0 339.1L484.4 340.2L484.0 341.3L484.4 342.4L484.1 343.5L484.5 344.6L484.2 345.8L484.4 346.9L484.2 348.0L484.4 349.1L484.2 350.2L484.4 351.3L484.4 352.4L484.3 351.3L484.4 350.2L484.2 349.1L484.4 348.0L484.2 346.9L484.4 345.8L484.2 344.6L484.5 343.5L484.3 342.4L484.5 341.3L484.1 340.2L484.5 339.1L484.3 338.0L484.6 336.9L484.2 335.7L484.7 334.6L484.1 333.5L484.6 332.4L484.2 331.2L484.6 330.1L484.3 329.0L484.6 327.9L484.2 326.7L484.7 325.6L484.3 324.5L484.8 323.4L484.3 322.2L484.8 321.1L484.3 320.0L484.7 318.9L484.4 317.8L484.8 316.7L484.5 315.6L484.8 314.4L484.4 313.3L484.8 312.2L484.4 311.1L485.0 310.0L484.3 308.9L485.0 307.8L484.4 306.7L484.9 305.6L484.3 304.4L485.2 303.3L484.4 302.2L485.1 301.1L484.4 300.0L485.1 298.8L484.6 297.6L485.1 296.4L484.3 295.2L485.4 294.0L484.5 292.8L485.7 291.6L484.6 290.4L485.9 289.2L484.4 287.9L485.9 286.9L485.1 285.6L486.3 284.6L485.0 283.3L486.1 282.2L485.1 280.9L486.8 279.9L485.2 278.5L487.1 277.5L485.8 276.1L487.0 275.0L486.3 273.8L487.7 272.8L486.2 271.4L487.7 270.4L486.6 269.1L487.8 268.0L487.2 266.8L488.0 265.7L487.5 264.5L488.3 263.5L487.8 262.3L488.2 261.2L488.3 260.0L488.0 261.2L488.6 262.3L488.2 263.5L489.1 264.5L488.2 265.8L489.6 266.8L488.3 268.1L489.5 269.1L488.3 270.4L489.9 271.4L488.7 272.6L490.3 273.6L489.0 274.9L490.2 275.9L489.4 277.3L490.5 278.3L489.5 279.7L491.1 280.7L490.2 282.0" fill="none" stroke="#0072BD" stroke-width="1.5" stroke-linejoin="round" stroke-dasharray="6 1.2 1.6 1.2"/><path d="M65.9 267.1L66.6 267.8L67.7 279.5L68.8 291.1L70.0 287.5L71.0 287.5L71.9 290.0L72.5 288.2L73.9 289.7L75.1 282.4L76.1 272.9L77.1 273.7L78.0 269.3L79.0 275.1L80.0 279.5L80.9 282.4L81.9 279.5L83.4 280.9L83.9 283.3L84.8 278.0L86.0 270.8L86.7 259.8L88.2 261.3L88.9 267.0L89.6 267.8L91.4 270.8L91.9 272.6L93.1 275.1L93.9 278.8L95.0 277.3L95.9 278.1L97.2 278.8L97.9 279.1L99.4 279.5L99.9 280.8L100.9 281.3L101.5 278.0L102.9 278.9L103.7 276.6L105.2 273.7L106.3 268.6L106.9 271.8L107.7 275.1L108.9 278.3L109.5 276.6L111.0 276.6L111.9 276.3L112.5 275.1L113.9 273.7L115.4 272.2L115.9 273.1L116.8 274.4L118.3 276.6L118.9 279.6L119.7 279.5L121.2 282.4L122.3 280.9L122.9 280.8L123.7 275.1L124.8 264.9L126.0 259.8L127.3 262.0L127.9 266.0L128.7 266.4L130.0 269.3L130.9 280.4L131.5 282.4L132.9 286.8L134.4 280.9L134.9 284.8L136.1 277.3L136.9 278.8L138.0 273.7L138.9 272.3L139.9 269.3L141.3 270.8L141.9 273.0L143.1 275.1L143.9 279.4L145.3 277.3L145.9 280.4L147.2 273.7L147.9 279.9L148.9 275.1L149.9 276.1L151.1 277.3L151.9 282.1L153.0 276.6L153.9 283.3L155.0 279.5L155.9 278.9L156.9 278.0L158.4 273.7L158.9 276.3L159.8 270.8L160.9 271.8L161.7 272.2L162.9 276.7L163.5 270.8L164.9 275.1L165.9 278.8L167.1 272.2L167.9 270.8L168.5 269.3L169.7 267.8L171.0 273.7L171.9 274.8L172.5 275.1L173.6 272.2L175.1 269.3L175.9 272.4L176.5 270.0L178.3 275.1L178.9 277.6L180.2 277.3L180.9 276.7L181.6 275.1L182.7 262.0L183.4 250.4L184.0 248.2L184.5 251.1L185.3 259.1L186.1 272.2L187.2 278.0L188.2 292.6L189.3 289.7L190.4 275.1L191.4 272.2L191.9 273.7L192.8 275.1L193.9 277.8L194.7 279.5L195.9 279.9L196.9 279.5L197.9 282.5L199.1 278.8L199.9 279.1L201.3 278.0L201.9 278.7L202.9 282.4L203.5 278.8L205.0 275.1L205.9 276.5L206.7 277.3L207.9 280.3L208.6 280.9L210.1 279.5L210.9 278.3L211.5 267.8L213.0 272.2L214.2 280.9L214.9 277.3L215.5 272.2L216.6 267.1L218.1 272.2L218.9 275.6L219.5 278.0L221.0 280.9L221.9 282.5L222.5 282.4L224.2 281.7L224.9 282.2L226.1 279.5L226.9 283.3L228.0 278.0L228.9 278.6L229.7 275.1L230.9 273.6L231.5 272.2L233.4 269.3L233.9 271.8L234.8 264.2L236.0 262.8L237.3 266.4L237.9 268.9L238.7 270.8L239.9 276.1L240.6 275.1L241.9 276.0L242.5 275.8L244.3 275.1L244.9 277.2L246.0 273.7L246.9 274.3L247.5 272.9L249.4 277.3L249.9 277.8L251.3 278.8L251.9 278.8L253.0 277.3L253.9 278.2L255.2 278.0L255.9 280.4L257.1 278.8L257.9 278.2L258.8 276.6L259.9 276.3L260.7 275.8L261.9 276.8L262.5 273.7L264.3 275.1L264.9 277.2L266.1 273.7L266.9 278.4L268.0 272.9L268.9 274.1L269.7 275.1L270.9 278.7L271.6 278.0L273.4 278.0L273.9 277.5L275.3 275.1L275.9 276.3L277.0 272.9L277.9 273.5L278.5 272.2L280.0 275.1L280.9 282.8L281.5 278.0L282.9 280.9L284.4 278.0L284.9 280.9L286.1 273.7L286.9 274.8L288.0 275.1L288.9 274.4L289.9 273.7L290.9 275.2L291.6 269.3L293.4 266.4L293.9 267.1L294.5 267.8L296.3 270.8L296.9 272.3L297.7 268.6L298.9 272.4L299.6 272.2L301.1 275.1L301.9 277.0L302.5 278.0L304.0 275.1L304.9 278.9L305.9 275.8L306.9 279.1L307.6 276.6L309.1 272.2L309.9 273.3L310.5 267.8L312.3 270.8L312.9 270.0L313.7 264.9L314.9 269.3L316.4 278.0L316.9 283.2L318.1 280.9L318.9 281.4L320.0 279.5L320.9 282.1L321.9 278.8L322.9 279.6L323.6 277.3L325.4 274.4L325.9 275.3L327.3 272.2L328.3 264.9L329.0 256.2L329.6 246.0L329.9 243.1L330.2 246.0L330.8 256.2L331.6 264.9L332.7 273.7L334.1 279.5L335.3 279.5L335.9 279.0L336.7 278.0L338.2 275.1L338.9 278.6L339.6 273.7L341.4 276.6L341.9 279.3L343.3 278.0L343.9 280.0L345.2 276.6L345.9 277.2L346.9 275.1L347.9 275.2L348.7 275.1L349.9 275.1L350.5 275.1L352.3 275.8L352.9 278.0L354.2 278.0L355.0 278.8L355.9 281.0L356.7 278.0L357.9 279.1L358.6 276.6L359.9 275.4L360.8 273.7L361.9 275.7L363.0 276.6L363.9 276.2L364.9 275.1L365.9 279.3L366.6 277.3L368.4 279.5L368.9 280.3L370.3 278.0L370.9 276.8L371.7 273.7L372.9 271.7L373.6 270.0L375.1 275.1L375.9 281.0L376.5 279.5L378.0 282.4L379.0 286.8L380.0 282.4L380.9 284.5L381.5 279.5L382.9 278.8L383.9 282.4L384.8 282.4L385.9 283.0L386.7 283.1L387.9 284.5L388.5 280.9L389.9 275.1L391.4 272.2L391.9 275.6L393.1 275.1L393.9 277.2L395.0 278.8L395.9 280.1L397.2 279.5L397.9 279.9L399.4 279.5L399.9 281.1L401.3 278.0L401.9 279.6L403.0 280.2L403.9 281.3L404.7 275.1L405.9 273.0L406.6 271.5L408.1 272.2L408.9 277.7L409.5 276.6L411.0 275.1L411.9 275.9L412.5 272.2L413.9 276.6L414.9 279.4L415.8 280.2L416.9 279.8L417.5 279.5L419.3 280.9L419.9 282.9L421.2 282.4L421.9 283.7L422.6 278.0L423.9 275.4L424.5 273.7L426.3 277.3L426.9 280.1L427.7 278.0L428.9 278.2L429.5 275.1L430.0 276.6L430.9 278.1L431.7 272.9L432.9 275.6L433.6 273.7L434.9 276.4L435.5 275.8L437.3 277.3L437.9 277.6L439.0 278.0L439.9 281.8L440.9 280.2L441.9 280.5L442.8 279.5L443.9 281.2L444.5 278.8L446.3 276.6L446.9 277.8L448.2 275.1L448.9 276.0L450.1 275.1L450.9 277.7L451.8 274.4L452.9 280.2L453.6 278.0L454.9 280.3L455.5 280.9L457.3 279.5L457.9 280.6L459.1 277.3L459.9 277.1L460.8 275.1L461.9 277.1L462.7 273.7L463.9 276.1L464.6 272.9L466.4 271.5L466.9 273.7L467.8 272.2L468.9 277.3L469.6 276.6L470.9 279.6L471.5 278.0L473.3 278.8L473.9 278.9L475.1 278.0L475.9 280.5L476.8 277.3L477.9 279.3L478.7 278.0L479.9 279.4L480.6 278.8L482.4 278.0L482.9 281.6L484.1 277.3L484.9 277.8L486.0 278.0L486.9 280.2L487.5 278.0L488.9 277.3L490.0 274.3L490.9 274.2L491.6 271.1L493.2 271.6L493.9 275.6L494.8 273.7L495.9 277.2L496.5 274.3L498.1 276.4L499.1 278.6L500.2 278.0L500.9 278.9L501.8 278.6L502.9 278.4L503.4 278.0L505.1 276.4L505.9 277.0L506.7 275.4L507.7 275.9L509.1 278.6L509.9 284.4L510.4 282.9L511.3 281.8L512.4 278.6L512.9 279.7L513.4 274.8L514.5 274.8L514.5 276.9L513.4 281.2L512.9 282.7L512.4 286.6L511.3 292.0L510.4 292.5L509.9 288.0L509.1 287.7L507.7 282.3L506.7 281.2L505.9 280.2L505.1 282.8L503.4 283.9L502.9 283.9L501.8 284.4L500.9 282.6L500.2 285.0L499.1 288.7L498.1 286.6L496.5 283.9L495.9 283.2L494.8 282.8L493.9 281.8L493.2 281.2L491.6 280.1L490.9 282.9L490.0 286.6L488.9 286.9L487.5 289.1L486.9 286.1L486.0 290.5L484.9 288.0L484.1 289.1L482.9 287.5L482.4 288.3L480.6 288.3L479.9 284.3L478.7 287.6L477.9 283.3L476.8 284.0L475.9 281.2L475.1 284.0L473.9 282.4L473.3 285.4L471.5 286.2L470.9 283.4L469.6 284.7L468.9 280.3L467.8 280.3L466.9 279.0L466.4 278.9L464.6 279.6L463.9 279.1L462.7 281.1L461.9 279.2L460.8 282.5L459.9 282.2L459.1 284.7L457.9 283.5L457.3 287.6L455.5 289.8L454.9 287.6L453.6 286.9L452.9 282.8L451.8 282.5L450.9 282.0L450.1 281.8L448.9 279.9L448.2 282.5L446.9 281.2L446.3 284.0L444.5 286.2L443.9 285.5L442.8 288.3L441.9 288.7L440.9 291.2L439.9 288.5L439.0 286.9L437.9 284.6L437.3 285.4L435.5 284.0L434.9 282.9L433.6 281.8L432.9 281.4L431.7 281.8L430.9 280.6L430.0 288.3L429.5 284.0L428.9 282.9L427.7 287.6L426.9 286.9L426.3 289.1L424.5 286.2L423.9 287.0L422.6 289.1L421.9 289.9L421.2 292.0L419.9 291.5L419.3 291.2L417.5 289.1L416.9 289.1L415.8 289.8L414.9 285.5L413.9 287.6L412.5 281.8L411.9 280.9L411.0 284.7L409.5 284.7L408.9 282.7L408.1 280.3L406.6 279.6L405.9 281.3L404.7 284.0L403.9 284.8L403.0 288.3L401.9 284.7L401.3 287.6L399.9 286.2L399.4 287.6L397.9 286.1L397.2 286.9L395.9 285.5L395.0 285.4L393.9 284.3L393.1 284.0L391.9 278.3L391.4 281.1L389.9 284.0L388.5 289.1L387.9 286.8L386.7 291.2L385.9 289.6L384.8 290.5L383.9 288.0L382.9 286.9L381.5 287.6L380.9 289.8L380.0 296.3L379.0 305.8L378.0 300.7L376.5 290.5L375.9 284.0L375.1 284.7L373.6 278.2L372.9 277.9L371.7 280.3L370.9 281.7L370.3 286.2L368.9 284.4L368.4 288.3L366.6 284.7L365.9 281.9L364.9 282.5L363.9 282.6L363.0 283.2L361.9 280.6L360.8 281.8L359.9 283.0L358.6 284.7L357.9 282.3L356.7 287.6L355.9 286.3L355.0 288.3L354.2 288.3L352.9 284.9L352.3 284.0L350.5 282.5L349.9 280.9L348.7 282.5L347.9 280.5L346.9 283.2L345.9 281.5L345.2 285.4L343.9 284.1L343.3 286.2L341.9 284.1L341.4 284.7L339.6 281.8L338.9 280.4L338.2 286.2L336.7 292.0L335.9 290.2L335.3 294.9L334.1 297.1L332.7 289.1L331.6 278.9L330.8 270.2L330.2 255.6L329.9 249.8L329.6 255.6L329.0 270.2L328.3 277.4L327.3 279.6L325.9 279.1L325.4 281.1L323.6 284.0L322.9 284.3L321.9 286.9L320.9 285.6L320.0 287.6L318.9 285.8L318.1 289.1L316.9 286.0L316.4 290.5L314.9 297.8L313.7 286.2L312.9 281.0L312.3 284.7L310.5 280.3L309.9 276.6L309.1 281.8L307.6 286.2L306.9 283.2L305.9 285.4L304.9 282.8L304.0 289.1L302.5 299.2L301.9 293.5L301.1 294.9L299.6 292.0L298.9 281.2L297.7 284.7L296.9 281.1L296.3 286.2L294.5 283.2L293.9 278.9L293.4 281.8L291.6 284.7L290.9 280.1L289.9 289.1L288.9 285.4L288.0 294.9L286.9 291.5L286.1 289.1L284.9 289.7L284.4 294.9L282.9 297.8L281.5 293.4L280.9 287.4L280.0 286.2L278.5 281.8L277.9 278.6L277.0 283.2L275.9 283.9L275.3 284.7L273.9 285.2L273.4 286.9L271.6 287.6L270.9 289.1L269.7 292.0L268.9 288.8L268.0 287.6L266.9 285.8L266.1 285.4L264.9 285.1L264.3 286.2L262.5 286.9L261.9 282.6L260.7 287.6L259.9 288.4L258.8 291.2L257.9 286.7L257.1 289.1L255.9 287.4L255.2 287.6L253.9 283.9L253.0 286.9L251.9 284.8L251.3 287.6L249.9 283.1L249.4 286.9L247.5 281.8L246.9 281.1L246.0 280.3L244.9 279.8L244.3 281.8L242.5 284.0L241.9 280.3L240.6 283.2L239.9 278.9L238.7 281.8L237.9 278.8L237.3 277.4L236.0 274.5L234.8 276.0L233.9 274.9L233.4 280.3L231.5 281.8L230.9 282.6L229.7 285.4L228.9 283.0L228.0 288.3L226.9 287.9L226.1 290.5L224.9 291.1L224.2 294.2L222.5 292.7L221.9 289.7L221.0 290.5L219.5 286.9L218.9 282.7L218.1 281.8L216.6 281.8L215.5 289.1L214.9 292.6L214.2 297.8L213.0 296.3L211.5 287.6L210.9 289.2L210.1 294.9L208.6 294.9L207.9 293.4L206.7 293.4L205.9 285.3L205.0 290.5L203.5 290.5L202.9 286.7L201.9 285.9L201.3 285.4L199.9 283.1L199.1 286.2L197.9 284.3L196.9 287.6L195.9 287.3L194.7 288.3L193.9 287.2L192.8 289.1L191.9 285.3L191.4 289.1L190.4 294.9L189.3 303.6L188.2 308.0L187.2 303.6L186.1 290.5L185.3 280.3L184.5 267.2L184.0 261.4L183.4 265.8L182.7 281.8L181.6 288.3L180.9 284.9L180.2 288.3L178.9 283.6L178.3 283.2L176.5 278.2L175.9 277.5L175.1 277.4L173.6 281.8L172.5 287.6L171.9 286.9L171.0 286.2L169.7 281.8L168.5 280.3L167.9 281.5L167.1 284.7L165.9 297.1L164.9 289.1L163.5 284.7L162.9 280.5L161.7 284.0L160.9 282.5L159.8 283.2L158.9 283.8L158.4 285.4L156.9 288.3L155.9 287.3L155.0 291.2L153.9 288.9L153.0 289.8L151.9 288.2L151.1 290.5L149.9 288.7L148.9 288.3L147.9 283.2L147.2 287.6L145.9 287.1L145.3 289.1L143.9 285.9L143.1 286.2L141.9 283.1L141.3 281.8L139.9 278.2L138.9 279.6L138.0 281.8L136.9 281.9L136.1 286.2L134.9 286.2L134.4 293.4L132.9 300.7L131.5 301.4L130.9 295.9L130.0 290.5L128.7 278.9L127.9 273.3L127.3 274.5L126.0 271.6L124.8 278.9L123.7 287.6L122.9 288.6L122.3 294.9L121.2 297.8L119.7 293.4L118.9 285.9L118.3 287.6L116.8 286.2L115.9 284.2L115.4 286.2L113.9 287.6L112.5 289.1L111.9 288.8L111.0 290.5L109.5 289.1L108.9 288.5L107.7 287.6L106.9 285.1L106.3 283.2L105.2 281.8L103.7 284.0L102.9 282.6L101.5 284.7L100.9 282.1L99.9 285.2L99.4 285.4L97.9 284.2L97.2 287.6L95.9 287.2L95.0 288.3L93.9 284.1L93.1 287.6L91.9 282.5L91.4 283.2L89.6 280.3L88.9 275.4L88.2 276.0L86.7 274.5L86.0 281.8L84.8 287.6L83.9 287.2L83.4 289.1L81.9 292.0L80.9 302.2L80.0 296.3L79.0 290.5L78.0 286.2L77.1 292.0L76.1 290.5L75.1 299.2L73.9 309.4L72.5 303.6L71.9 299.7L71.0 300.7L70.0 302.2L68.8 304.3L67.7 300.7L66.6 281.8L65.9 271.6Z" fill="#DC5318" stroke="#DC5318" stroke-width="0.9" stroke-linejoin="round"/><rect x="109.88" y="208.20" width="15.73" height="159.60" fill="#808080" fill-opacity="0.3"/><rect x="214.74" y="208.20" width="31.46" height="159.60" fill="#808080" fill-opacity="0.3"/><rect x="319.60" y="208.20" width="15.73" height="159.60" fill="#808080" fill-opacity="0.3"/><rect x="413.97" y="208.20" width="15.73" height="159.60" fill="#808080" fill-opacity="0.3"/><rect x="476.89" y="208.20" width="15.73" height="159.60" fill="#808080" fill-opacity="0.3"/><path d="M57.45 208.20V367.80H529.32" fill="none" stroke="#1c1c1c" stroke-width="1.4"/><path d="M57.45 367.80v-5M109.88 367.80v-5M162.31 367.80v-5M214.74 367.80v-5M267.17 367.80v-5M319.60 367.80v-5M372.03 367.80v-5M424.46 367.80v-5M476.89 367.80v-5M529.32 367.80v-5M57.45 208.20h5M57.45 245.65h5M57.45 283.10h5M57.45 320.55h5M57.45 358.00h5" fill="none" stroke="#1c1c1c" stroke-width="1.1"/><rect x="386" y="17.5" width="128" height="37.5" fill="#fff"/><path d="M397 29.4H435.6" stroke="#0072BD" stroke-width="1.8" stroke-dasharray="6.5 2.3 1.6 2.5" fill="none"/><path d="M397 45.4H435.6" stroke="#DC5318" stroke-width="1.8" fill="none"/><g style="font-family:'Liberation Serif',serif;fill:#262626;stroke:#262626;stroke-width:0.2" font-size="16.5"><text x="438.5" y="33.7" font-size="13.8">without VG</text><text x="438.5" y="49.7" font-size="13.8">VG</text><text transform="translate(58.4 194.7) scale(0.9 1)" text-anchor="middle">0</text><text transform="translate(110.7 194.7) scale(0.9 1)" text-anchor="middle">500</text><text transform="translate(163.0 194.7) scale(0.9 1)" text-anchor="middle">1000</text><text transform="translate(215.3 194.7) scale(0.9 1)" text-anchor="middle">1500</text><text transform="translate(267.7 194.7) scale(0.9 1)" text-anchor="middle">2000</text><text transform="translate(320.0 194.7) scale(0.9 1)" text-anchor="middle">2500</text><text transform="translate(372.3 194.7) scale(0.9 1)" text-anchor="middle">3000</text><text transform="translate(424.7 194.7) scale(0.9 1)" text-anchor="middle">3500</text><text transform="translate(477.0 194.7) scale(0.9 1)" text-anchor="middle">4000</text><text transform="translate(529.3 194.7) scale(0.9 1)" text-anchor="middle">4500</text><text transform="translate(52 16.9) scale(0.9 1)" text-anchor="end">1</text><text transform="translate(52 57.7) scale(0.9 1)" text-anchor="end">0.5</text><text transform="translate(52 98.5) scale(0.9 1)" text-anchor="end">0</text><text transform="translate(52 139.3) scale(0.9 1)" text-anchor="end">-0.5</text><text transform="translate(52 180.1) scale(0.9 1)" text-anchor="end">-1</text><text transform="translate(57.5 388.4) scale(0.9 1)" text-anchor="middle">0</text><text transform="translate(109.9 388.4) scale(0.9 1)" text-anchor="middle">500</text><text transform="translate(162.3 388.4) scale(0.9 1)" text-anchor="middle">1000</text><text transform="translate(214.7 388.4) scale(0.9 1)" text-anchor="middle">1500</text><text transform="translate(267.2 388.4) scale(0.9 1)" text-anchor="middle">2000</text><text transform="translate(319.6 388.4) scale(0.9 1)" text-anchor="middle">2500</text><text transform="translate(372.0 388.4) scale(0.9 1)" text-anchor="middle">3000</text><text transform="translate(424.5 388.4) scale(0.9 1)" text-anchor="middle">3500</text><text transform="translate(476.9 388.4) scale(0.9 1)" text-anchor="middle">4000</text><text transform="translate(529.3 388.4) scale(0.9 1)" text-anchor="middle">4500</text><text transform="translate(51.3 213.7) scale(0.9 1)" text-anchor="end">1</text><text transform="translate(51.3 251.2) scale(0.9 1)" text-anchor="end">0.5</text><text transform="translate(51.3 288.6) scale(0.9 1)" text-anchor="end">0</text><text transform="translate(51.3 326.1) scale(0.9 1)" text-anchor="end">-0.5</text><text transform="translate(51.3 363.5) scale(0.9 1)" text-anchor="end">-1</text><g transform="translate(20.3 138.5) rotate(-90)" stroke-width="0"><text transform="scale(0.92 1)" font-size="17.5" letter-spacing="0.1" x="0" y="0">delta</text><text transform="translate(38.4 0) scale(0.92 1)" font-size="17.5" letter-spacing="0.56" x="0" y="0">Pitch(</text><text font-size="16" x="80.6" y="1.3">°</text><text transform="translate(84.3 0) scale(0.92 1)" font-size="17.5" x="0" y="0">)</text></g><g transform="translate(20.3 329.9) rotate(-90)" stroke-width="0"><text transform="scale(0.92 1)" font-size="17.5" letter-spacing="0.1" x="0" y="0">delta</text><text transform="translate(36.6 0) scale(0.92 1)" font-size="17.5" letter-spacing="0.5" x="0" y="0">Roll(</text><text font-size="16" x="73.2" y="1.3">°</text><text transform="translate(76.9 0) scale(0.92 1)" font-size="17.5" x="0" y="0">)</text></g><text x="277" y="408.8" font-style="italic" font-size="16.5">t</text><text transform="translate(292.3 408.6) scale(0.88 1)" font-size="16.5">(s)</text></g></svg></body></html>
